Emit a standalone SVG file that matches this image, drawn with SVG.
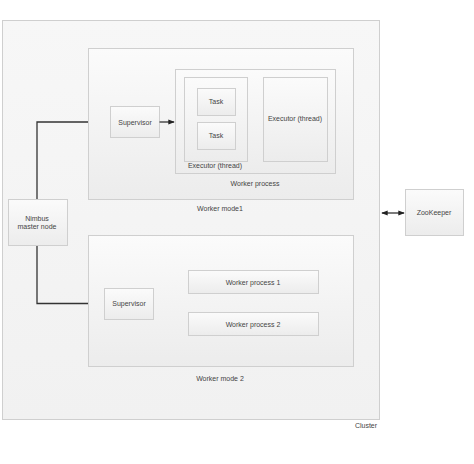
<svg xmlns="http://www.w3.org/2000/svg" width="474" height="464" viewBox="0 0 474 464">
<defs>
<linearGradient id="g" x1="0" y1="0" x2="0" y2="1">
<stop offset="0" stop-color="#fbfbfb"/>
<stop offset="1" stop-color="#ececec"/>
</linearGradient>
<linearGradient id="gc" x1="0" y1="0" x2="0" y2="1">
<stop offset="0" stop-color="#f7f7f7"/>
<stop offset="1" stop-color="#f1f1f1"/>
</linearGradient>
<marker id="ah" viewBox="0 0 8 8" refX="7" refY="4" markerWidth="5" markerHeight="5" orient="auto-start-reverse">
<path d="M0,1 L8,4 L0,7 z" fill="#222"/>
</marker>
</defs>
<style>
.b{fill:url(#g);stroke:#cfcfcf;stroke-width:1}
.c{fill:url(#gc);stroke:#cfcfcf;stroke-width:1}
text{font-family:"Liberation Sans",Arial,sans-serif;font-size:7px;fill:#444;text-anchor:middle}
.ln{fill:none;stroke:#333;stroke-width:1.3}
</style>
<rect width="474" height="464" fill="#ffffff"/>
<g id="cluster">
<rect class="c" x="2.5" y="20.5" width="377" height="399"/>
<text x="366" y="428">Cluster</text>
</g>
<g id="worker-mode1">
<rect class="b" x="88.5" y="48.5" width="265" height="151"/>
<text x="220" y="211">Worker mode1</text>
</g>
<g id="worker-process">
<rect class="b" x="175.5" y="69.5" width="160" height="104"/>
<text x="255" y="186">Worker process</text>
</g>
<g id="executor1">
<rect class="b" x="184.5" y="77.5" width="63" height="84"/>
<text x="215" y="168">Executor (thread)</text>
</g>
<g id="task1">
<rect class="b" x="197.5" y="88.5" width="38" height="27"/>
<text x="216" y="104">Task</text>
</g>
<g id="task2">
<rect class="b" x="197.5" y="122.5" width="38" height="27"/>
<text x="216" y="138">Task</text>
</g>
<g id="executor2">
<rect class="b" x="263.5" y="77.5" width="64" height="84"/>
<text x="295" y="121">Executor (thread)</text>
</g>
<g id="supervisor1">
<rect class="b" x="110.5" y="106.5" width="49" height="31"/>
<text x="135" y="124.5">Supervisor</text>
</g>
<g id="nimbus">
<rect class="b" x="8.5" y="199.5" width="59" height="46"/>
<text x="37" y="221">Nimbus</text>
<text x="37" y="229">master node</text>
</g>
<g id="worker-mode2">
<rect class="b" x="88.5" y="235.5" width="265" height="131"/>
<text x="220" y="381">Worker mode 2</text>
</g>
<g id="supervisor2">
<rect class="b" x="104.5" y="288.5" width="49" height="31"/>
<text x="129" y="306">Supervisor</text>
</g>
<g id="worker-process-1">
<rect class="b" x="188.5" y="270.5" width="130" height="23"/>
<text x="253" y="284.5">Worker process 1</text>
</g>
<g id="worker-process-2">
<rect class="b" x="188.5" y="312.5" width="130" height="23"/>
<text x="253" y="327">Worker process 2</text>
</g>
<g id="zookeeper">
<rect class="b" x="405.5" y="189.5" width="58" height="46"/>
<text x="434" y="214.5">ZooKeeper</text>
</g>
<g id="connectors">
<path class="ln" d="M37,199 V122 H88"/>
<path class="ln" d="M37,246 V303.5 H88"/>
<path class="ln" d="M159.5,122 H174" marker-end="url(#ah)"/>
<path class="ln" d="M382,213 H404" marker-start="url(#ah)" marker-end="url(#ah)"/>
</g>
</svg>
